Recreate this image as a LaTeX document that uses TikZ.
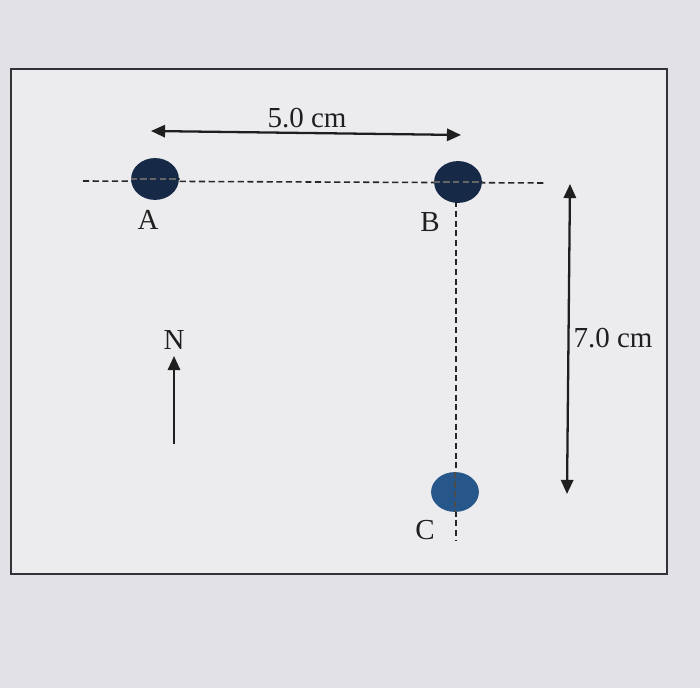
\documentclass[tikz,border=0pt]{standalone}
\usepackage{fontspec}
\setmainfont{Liberation Serif}
\usetikzlibrary{shapes.geometric,arrows.meta}
\definecolor{bg}{RGB}{226,226,230}
\definecolor{framec}{RGB}{50,50,56}
\definecolor{ballA}{RGB}{22,42,72}
\definecolor{ballC}{RGB}{38,86,138}
\newlength{\px}\setlength{\px}{0.567pt}
\tikzset{
  ball/.style={ellipse, minimum width=48\px, minimum height=42\px, inner sep=0pt},
  lbl/.style={font=\fontsize{16.5}{18}\selectfont, text=black!88, inner sep=0pt},
  guide/.style={dash pattern=on 3.5pt off 2pt, line width=0.9pt, black!85},
  dim/.style={line width=1.3pt, black!88, {Triangle[length=8pt,width=7pt]}-{Triangle[length=8pt,width=7pt]}},
  north/.style={line width=1.3pt, black!88, -{Triangle[length=8pt,width=7pt]}}
}
\begin{document}
\begin{tikzpicture}[x=0.02cm,y=-0.02cm]
\fill[bg] (0,0) rectangle (700,688);
\draw[framec, line width=1.1pt, fill=bg!65!white] (11,69) rectangle (667,574);
% guide lines
\coordinate (gl) at (83,181);
\coordinate (gr) at (545,183);
\coordinate (gb) at (456,540);
\draw[guide] (gl) -- (gr);
\draw[guide] (456,182) -- (gb);
% balls
\node[ball, fill=ballA] (A) at (155,179) {};
\node[ball, fill=ballA] (B) at (458,182) {};
\node[ball, fill=ballC, minimum height=40\px] (C) at (455,492) {};
\draw[guide, black!60] (A.west) -- (A.east);
\draw[guide, black!60] (B.west) -- (B.east);
\draw[guide, black!70] (C.north) -- (C.south);
% labels
\node[lbl] (la) at (148,220) {A};
\node[lbl] (lb) at (430,222) {B};
\node[lbl] (lc) at (425,530) {C};
% 5.0 cm dimension
\coordinate (d1) at (151,131);
\coordinate (d2) at (461,135);
\draw[dim] (d1) -- (d2);
\node[lbl] (t5) at (307,118) {5.0 cm};
% 7.0 cm dimension
\coordinate (v1) at (570,184);
\coordinate (v2) at (567,494);
\draw[dim] (v1) -- (v2);
\node[lbl] (t7) at (613,338) {7.0 cm};
% north arrow
\coordinate (n1) at (174,444);
\coordinate (n2) at (174,356);
\draw[north] (n1) -- (n2);
\node[lbl] (tn) at (174,340) {N};
\end{tikzpicture}
\end{document}
